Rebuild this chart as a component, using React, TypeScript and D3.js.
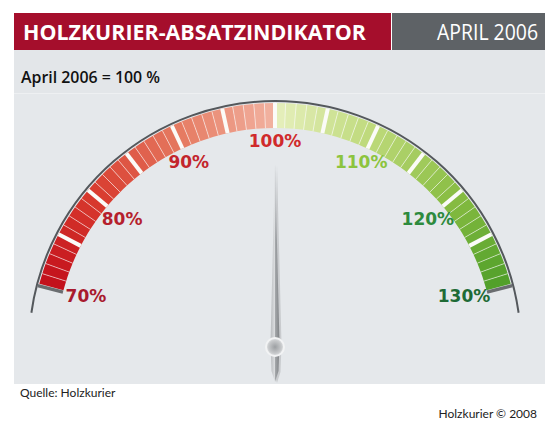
import * as d3 from "d3";

// Gauge values
const GAUGE_MIN = 70;
const GAUGE_MAX = 130;
const NEEDLE_VALUE = 100;
const MINOR_STEP = 1;
const MAJOR_STEP = 5;
const TICK_LABELS = [70, 80, 90, 100, 110, 120, 130];

// Texts
const TITLE = "HOLZKURIER-ABSATZINDIKATOR";
const PERIOD = "APRIL 2006";
const SUBTITLE = "April 2006 = 100 %";
const SOURCE = "Quelle: Holzkurier";
const COPYRIGHT = "Holzkurier © 2008";

// Layout
const W = 550;
const H = 423;
const cx = 275;
const cy = 347;
const innerR = 219;
const outerR = 244;

const deg = Math.PI / 180;

export default function App() {
  // value -> angle (radians, 0 = up, clockwise)
  const angle = d3
    .scaleLinear()
    .domain([GAUGE_MIN, GAUGE_MAX])
    .range([-75 * deg, 75 * deg]);

  const redColor = d3
    .scaleLinear<string>()
    .domain([70, 80, 90, 100])
    .range(["#c20f1b", "#d83a2e", "#e5785f", "#f2b3a1"]);
  const greenColor = d3
    .scaleLinear<string>()
    .domain([100, 110, 120, 130])
    .range(["#e6efbc", "#bdd979", "#88bd42", "#4f9e29"]);
  const labelColor = d3
    .scaleLinear<string>()
    .domain([70, 100, 100.01, 110, 120, 130])
    .range(["#a81a2e", "#d02a2b", "#d02a2b", "#8cc43e", "#2d8a3d", "#1e6b36"]);

  const arc = d3.arc<{ a0: number; a1: number }>()
    .innerRadius(innerR)
    .outerRadius(outerR)
    .startAngle((d) => d.a0)
    .endAngle((d) => d.a1);

  const segments = d3.range(GAUGE_MIN, GAUGE_MAX, MINOR_STEP);
  const separators = d3.range(GAUGE_MIN + MINOR_STEP, GAUGE_MAX, MINOR_STEP);

  const outline = d3.arc()({
    innerRadius: outerR + 2,
    outerRadius: outerR + 2,
    startAngle: -82 * deg,
    endAngle: 82 * deg,
  } as any);

  const polar = (r: number, a: number) => [r * Math.sin(a), -r * Math.cos(a)];

  const labelR = (a: number) => 206 - 11 * Math.sin(a) ** 2;

  return (
    <svg
      width={W}
      height={H}
      viewBox={`0 0 ${W} ${H}`}
      style={{ position: "absolute", left: 0, top: 0, background: "#fff" }}
    >
      <defs>
        <linearGradient id="needleGrad" x1="0" x2="1" y1="0" y2="0">
          <stop offset="0" stopColor="#b9bcbf" />
          <stop offset="0.45" stopColor="#d9dbdd" />
          <stop offset="0.55" stopColor="#a3a6a9" />
          <stop offset="1" stopColor="#7f8285" />
        </linearGradient>
        <linearGradient id="needleFade" x1="0" x2="0" y1="0" y2="1">
          <stop offset="0" stopColor="#e5e8eb" stopOpacity="0.9" />
          <stop offset="0.35" stopColor="#e5e8eb" stopOpacity="0" />
        </linearGradient>
        <radialGradient id="pivotGrad">
          <stop offset="0" stopColor="#9c9fa2" />
          <stop offset="0.7" stopColor="#c6c8ca" />
          <stop offset="1" stopColor="#e2e4e6" />
        </radialGradient>
      </defs>

      {/* header */}
      <rect x={14} y={13} width={377} height={37} fill="#a50e2c" />
      <rect x={392} y={13} width={153} height={37} fill="#5e6266" />
      <text
        x={23}
        y={40}
        fill="#fff"
        fontFamily="'Open Sans', sans-serif"
        fontWeight={700}
        fontSize={21}
        textLength={343}
        lengthAdjust="spacingAndGlyphs"
      >
        {TITLE}
      </text>
      <text
        x={538}
        y={40}
        fill="#fff"
        textAnchor="end"
        fontFamily="'Open Sans', sans-serif"
        fontSize={21}
        textLength={101}
        lengthAdjust="spacingAndGlyphs"
      >
        {PERIOD}
      </text>

      {/* subtitle band and panel */}
      <rect x={14} y={50} width={531} height={43} fill="#e3e6e9" />
      <rect x={14} y={93} width={531} height={291} fill="#e5e8eb" />
      <line x1={14} x2={545} y1={93.5} y2={93.5} stroke="#eef0f2" strokeWidth={1} />
      <text
        x={21}
        y={83}
        fill="#111"
        fontFamily="'Open Sans', sans-serif"
        fontWeight={600}
        fontSize={16}
        textLength={139}
        lengthAdjust="spacingAndGlyphs"
      >
        {SUBTITLE}
      </text>

      {/* gauge */}
      <g transform={`translate(${cx},${cy})`}>
        <path d={outline ?? ""} fill="none" stroke="#54585c" strokeWidth={2} />
        {segments.map((v) => (
          <path
            key={v}
            d={arc({ a0: angle(v), a1: angle(v + MINOR_STEP) }) ?? ""}
            fill={v < NEEDLE_VALUE ? redColor(v + 0.5) : greenColor(v + 0.5)}
          />
        ))}
        {separators.map((v) => {
          const a = angle(v);
          const [x1, y1] = polar(innerR, a);
          const [x2, y2] = polar(outerR, a);
          const major = v % MAJOR_STEP === 0;
          return (
            <line
              key={v}
              x1={x1}
              y1={y1}
              x2={x2}
              y2={y2}
              stroke={major ? "#fbfbf8" : "rgba(255,255,255,0.55)"}
              strokeWidth={major ? 4 : 1}
            />
          );
        })}
        {[GAUGE_MIN, GAUGE_MAX].map((v) => {
          const a = angle(v) + (v === GAUGE_MIN ? -0.5 : 0.5) * deg;
          const [x1, y1] = polar(innerR, a);
          const [x2, y2] = polar(outerR + 1, a);
          return (
            <line key={v} x1={x1} y1={y1} x2={x2} y2={y2} stroke="#6a6d70" strokeWidth={3.5} />
          );
        })}

        {TICK_LABELS.map((v) => {
          const a = angle(v);
          const [x, y] = polar(labelR(a), a);
          return (
            <text
              key={v}
              x={x}
              y={y}
              dy="0.36em"
              textAnchor="middle"
              fill={labelColor(v)}
              fontFamily="'DejaVu Sans', sans-serif"
              fontWeight={700}
              fontSize={17}
            >
              {v}%
            </text>
          );
        })}

        {/* needle */}
        <g transform={`rotate(${(angle(NEEDLE_VALUE) * 180) / Math.PI})`}>
          <path
            d="M0,-183 L4.5,-4 L3.5,24 L0,35 L-3.5,24 L-4.5,-4 Z"
            fill="#000"
            opacity={0.12}
            transform="translate(2,1)"
          />
          <path d="M0,-183 L4.5,-4 L3.5,24 L0,35 L-3.5,24 L-4.5,-4 Z" fill="url(#needleGrad)" />
          <path d="M0,-183 L4.5,-4 L3.5,24 L0,35 L-3.5,24 L-4.5,-4 Z" fill="url(#needleFade)" />
          <circle r={9} fill="url(#pivotGrad)" stroke="#f2f3f4" strokeWidth={2} />
        </g>
      </g>

      {/* footer */}
      <text x={20} y={397} fill="#222" fontFamily="Lato, sans-serif" fontSize={12}>
        {SOURCE}
      </text>
      <text x={537} y={418} textAnchor="end" fill="#222" fontFamily="Lato, sans-serif" fontSize={12}>
        {COPYRIGHT}
      </text>
    </svg>
  );
}
